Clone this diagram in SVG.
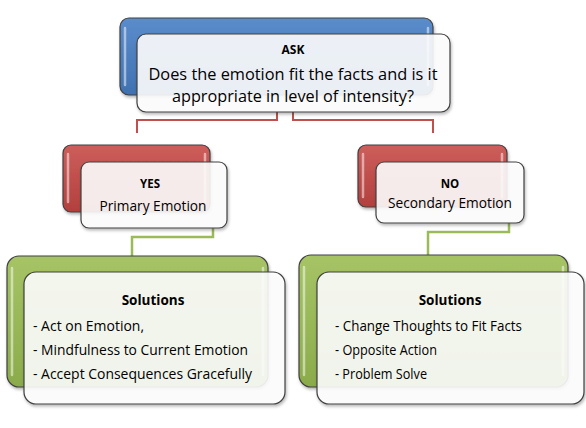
<svg xmlns="http://www.w3.org/2000/svg" width="586" height="428" viewBox="0 0 586 428">
<defs>
<linearGradient id="gBlue" x1="0" y1="0" x2="0" y2="1"><stop offset="0" stop-color="#5b8ccb"/><stop offset="1" stop-color="#3f71b0"/></linearGradient>
<linearGradient id="gRed" x1="0" y1="0" x2="0" y2="1"><stop offset="0" stop-color="#cd5e5b"/><stop offset="1" stop-color="#b2403d"/></linearGradient>
<linearGradient id="gGreen" x1="0" y1="0" x2="0" y2="1"><stop offset="0" stop-color="#a6c465"/><stop offset="1" stop-color="#8bab4b"/></linearGradient>
<filter id="sh" x="-10%" y="-10%" width="125%" height="130%"><feDropShadow dx="1" dy="2" stdDeviation="1.5" flood-color="#000" flood-opacity="0.3"/></filter>
</defs>
<style>
.back{stroke:#404040;stroke-width:1.2;filter:url(#sh)}
.front{fill:#ffffff;fill-opacity:0.88;stroke:#404040;stroke-width:1.2;filter:url(#sh)}
.gloss{fill:none;stroke:#ffffff;stroke-opacity:0.5;stroke-width:2.5;stroke-linecap:round}
.t{font-family:"Open Sans","Liberation Sans",sans-serif;fill:#000}
.b{font-weight:bold}
.red{fill:none;stroke:#c0504d;stroke-width:2}
.grn{fill:none;stroke:#9bbb59;stroke-width:2.5}
</style>
<g id="connectors">
<path class="red" d="M277,112 V120 H137 V133 M293,112 V120 H433 V133"/>
<path class="grn" d="M213,228 V237 H132 V257"/>
<path class="grn" d="M509,223 V232 H428 V255"/>
</g>
<g id="ask">
<rect class="back" x="120" y="18" width="313" height="77" rx="9" fill="url(#gBlue)"/>
<path class="gloss" d="M125,28 V85 M428,28 V85"/>
<rect class="front" x="137" y="34" width="313" height="78" rx="9"/>
<text class="t b" x="293" y="54" font-size="12" text-anchor="middle">ASK</text>
<text class="t" x="293" y="80" font-size="16" text-anchor="middle" textLength="289" lengthAdjust="spacingAndGlyphs">Does the emotion fit the facts and is it</text>
<text class="t" x="293" y="102" font-size="16" text-anchor="middle" textLength="242" lengthAdjust="spacingAndGlyphs">appropriate in level of intensity?</text>
</g>
<g id="yes">
<rect class="back" x="63" y="145" width="147" height="67" rx="8" fill="url(#gRed)"/>
<path class="gloss" d="M68,154 V202 M205,154 V202"/>
<rect class="front" x="81" y="162" width="146" height="66" rx="8"/>
<text class="t b" x="150" y="188" font-size="11.5" text-anchor="middle">YES</text>
<text class="t" x="153" y="211" font-size="14.5" text-anchor="middle" textLength="107" lengthAdjust="spacingAndGlyphs">Primary Emotion</text>
</g>
<g id="no">
<rect class="back" x="358" y="145" width="149" height="62" rx="8" fill="url(#gRed)"/>
<path class="gloss" d="M363,154 V197 M502,154 V197"/>
<rect class="front" x="376" y="162" width="148" height="61" rx="8"/>
<text class="t b" x="450" y="188" font-size="11.5" text-anchor="middle">NO</text>
<text class="t" x="450" y="208" font-size="14.5" text-anchor="middle" textLength="124" lengthAdjust="spacingAndGlyphs">Secondary Emotion</text>
</g>
<g id="sol-left">
<rect class="back" x="7" y="256" width="261" height="131" rx="12" fill="url(#gGreen)"/>
<path class="gloss" d="M12,268 V375 M263,268 V375"/>
<rect class="front" x="24" y="272" width="261" height="132" rx="12"/>
<text class="t b" x="153" y="305" font-size="13.5" text-anchor="middle">Solutions</text>
<text class="t" x="33" y="331" font-size="14" textLength="111" lengthAdjust="spacingAndGlyphs">- Act on Emotion,</text>
<text class="t" x="33" y="355" font-size="14" textLength="215" lengthAdjust="spacingAndGlyphs">- Mindfulness to Current  Emotion</text>
<text class="t" x="33" y="379" font-size="14" textLength="219" lengthAdjust="spacingAndGlyphs">- Accept Consequences Gracefully</text>
</g>
<g id="sol-right">
<rect class="back" x="299" y="255" width="269" height="132" rx="12" fill="url(#gGreen)"/>
<path class="gloss" d="M304,267 V375 M563,267 V375"/>
<rect class="front" x="317" y="272" width="267" height="132" rx="12"/>
<text class="t b" x="450" y="305" font-size="13.5" text-anchor="middle">Solutions</text>
<text class="t" x="335" y="331" font-size="14" textLength="187" lengthAdjust="spacingAndGlyphs">- Change Thoughts to Fit Facts</text>
<text class="t" x="335" y="355" font-size="14" textLength="102" lengthAdjust="spacingAndGlyphs">- Opposite Action</text>
<text class="t" x="335" y="379" font-size="14" textLength="92" lengthAdjust="spacingAndGlyphs">- Problem Solve</text>
</g>
</svg>
